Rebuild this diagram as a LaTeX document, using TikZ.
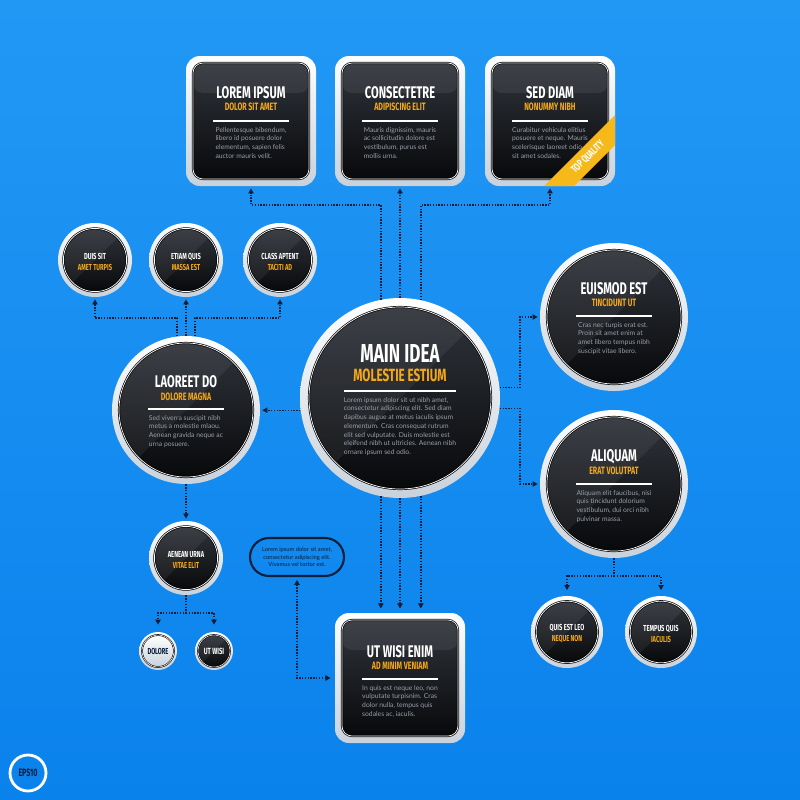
\documentclass[tikz,border=0pt]{standalone}
\usepackage{xcolor}
\usepackage{fontspec}
\usepackage{tikz}
\usetikzlibrary{arrows.meta}

\setmainfont{Lato}
\newfontfamily\headfont[FakeStretch=0.66]{Fira Sans}

\definecolor{bgtop}{RGB}{34,152,245}
\definecolor{bgbottom}{RGB}{10,130,236}
\definecolor{ink}{HTML}{0B1E3A}
\definecolor{gold}{HTML}{F6A917}
\definecolor{bodygray}{HTML}{98A0AA}
\definecolor{dkA}{HTML}{30343B}
\definecolor{dkB}{HTML}{08090B}
\definecolor{ringgray}{HTML}{C9D1DB}
\definecolor{ribbon}{HTML}{F7B81A}

\begin{document}
\begin{tikzpicture}[x=0.25mm, y=-0.25mm,
  ring/.style={circle, top color=white, bottom color=ringgray, inner sep=0},
  disk/.style={circle, top color=dkA, bottom color=dkB, draw=black, double=white,
    double distance=0.5pt, line width=0.5pt, inner sep=0,
    path picture={\fill[white, opacity=.06] (path picture bounding box.north west)
      -- (path picture bounding box.north east) -- (path picture bounding box.south west) -- cycle;}},
  tile/.style={rectangle, rounded corners=3.5mm, top color=white, bottom color=ringgray,
    minimum size=32.5mm, inner sep=0},
  tilein/.style={rectangle, rounded corners=2.5mm, top color=dkA, bottom color=dkB,
    draw=black, double=white, double distance=0.5pt, line width=0.5pt, minimum size=29mm, inner sep=0,
    path picture={\fill[white, opacity=.07] (path picture bounding box.north west)
      rectangle ([yshift=7mm]path picture bounding box.east);}},
  ttl/.style={font=\headfont\bfseries\fontsize{12}{12}\selectfont, text=white, inner sep=0},
  subttl/.style={font=\headfont\bfseries\fontsize{7.6}{7.6}\selectfont, text=gold, inner sep=0},
  txt/.style={font=\fontsize{4.8}{6.2}\selectfont, text=bodygray, align=left, anchor=north, inner sep=0},
  mini/.style={font=\headfont\bfseries\fontsize{6.2}{7.8}\selectfont, align=center, inner sep=0},
  sepline/.style={white, line width=1.4pt},
  conn/.style={draw=ink, line width=1pt, dash pattern=on 1pt off 1pt,
    -{Triangle[length=3.6pt,width=3.8pt]}, shorten >=1.5pt},
  biconn/.style={conn, {Triangle[length=3.6pt,width=3.8pt]}-{Triangle[length=3.6pt,width=3.8pt]}, shorten <=1.5pt}]

  % background
  \useasboundingbox (0,0) rectangle (800,800);
  \fill[top color=bgtop, bottom color=bgbottom] (0,0) rectangle (800,800);

  % top tiles
  \node[tile] (box1) at (251,121) {};
  \node[tilein] (box1i) at (251,121) {};
  \node[ttl] (box1t) at (251,93) {LOREM IPSUM};
  \node[subttl] (box1s) at (251,107) {DOLOR SIT AMET};
  \draw[sepline] (213,121) -- (289,121);
  \node[txt] (box1x) at (251,127) {Pellentesque bibendum,\\libero id posuere dolor\\elementum, sapien felis\\auctor mauris velit.};

  \node[tile] (box2) at (400,121) {};
  \node[tilein] (box2i) at (400,121) {};
  \node[ttl] (box2t) at (400,93) {CONSECTETRE};
  \node[subttl] (box2s) at (400,107) {ADIPISCING ELIT};
  \draw[sepline] (362,121) -- (438,121);
  \node[txt] (box2x) at (400,127) {Mauris dignissim, mauris\\ac sollicitudin dolore est\\vestibulum, purus est\\mollis urna.};

  \node[tile] (box3) at (550,121) {};
  \node[tilein] (box3i) at (550,121) {};
  \node[ttl] (box3t) at (550,93) {SED DIAM};
  \node[subttl] (box3s) at (550,107) {NONUMMY NIBH};
  \draw[sepline] (512,121) -- (588,121);
  \node[txt] (box3x) at (550,127) {Curabitur vehicula elitius\\posuere et neque. Mauris\\scelerisque laoreet odio\\sit amet sodales.};
  \begin{scope}
    \clip[rounded corners=3.5mm] (485,56) rectangle (615,186);
    \fill[ribbon] (520,210) -- (640,90) -- (670,90) -- (550,210) -- cycle;
  \end{scope}
  \node[font=\headfont\bfseries\fontsize{7.6}{7.6}\selectfont, text=white, rotate=45, inner sep=0] (topq) at (588,157) {TOP QUALITY};

  % small circles, left
  \node[ring, minimum size=18.5mm] (c1) at (95,260) {};
  \node[disk, minimum size=15.8mm] (c1i) at (95,260) {};
  \node[mini] (c1t) at (95,262) {\textcolor{white}{DUIS SIT}\\\textcolor{gold}{AMET TURPIS}};
  \node[ring, minimum size=18.5mm] (c2) at (186,260) {};
  \node[disk, minimum size=15.8mm] (c2i) at (186,260) {};
  \node[mini] (c2t) at (186,262) {\textcolor{white}{ETIAM QUIS}\\\textcolor{gold}{MASSA EST}};
  \node[ring, minimum size=18.5mm] (c3) at (280,260) {};
  \node[disk, minimum size=15.8mm] (c3i) at (280,260) {};
  \node[mini] (c3t) at (280,262) {\textcolor{white}{CLASS APTENT}\\\textcolor{gold}{TACITI AD}};

  % laoreet
  \node[ring, minimum size=37mm] (lao) at (186,410) {};
  \node[disk, minimum size=33.5mm] (laoi) at (186,410) {};
  \node[ttl] (laot) at (186,382) {LAOREET DO};
  \node[subttl] (laos) at (186,397) {DOLORE MAGNA};
  \draw[sepline] (148,409) -- (224,409);
  \node[txt] (laox) at (186,415) {Sed viverra suscipit nibh\\metus a molestie mlaou.\\Aenean gravida neque ac\\urna posuere.};

  % main idea
  \node[ring, minimum size=50mm] (main) at (400,398) {};
  \node[disk, minimum size=45.5mm] (maini) at (400,398) {};
  \node[ttl, font=\headfont\bfseries\fontsize{18.5}{18.5}\selectfont] (maint) at (400,353) {MAIN IDEA};
  \node[subttl, font=\headfont\bfseries\fontsize{12.6}{12.6}\selectfont] (mains) at (400,375) {MOLESTIE ESTIUM};
  \draw[sepline] (344,391) -- (456,391);
  \node[txt] (mainx) at (400,397) {Lorem ipsum dolor sit ut nibh amet,\\consectetur adipiscing elit. Sed diam\\dapibus augue at metus iaculis ipsum\\elementum. Cras consequat rutrum\\elit sed vulputate. Duis molestie est\\eleifend nibh ut ultricies. Aenean nibh\\ornare ipsum sed odio.};

  % right circles
  \node[ring, minimum size=37mm] (eui) at (614,317) {};
  \node[disk, minimum size=33.5mm] (euii) at (614,317) {};
  \node[ttl] (euit) at (614,289) {EUISMOD EST};
  \node[subttl] (euis) at (614,303) {TINCIDUNT UT};
  \draw[sepline] (576,316) -- (652,316);
  \node[txt] (euix) at (614,322) {Cras nec turpis erat est.\\Proin sit amet enim at\\amet libero tempus nibh\\suscipit vitae libero.};

  \node[ring, minimum size=37mm] (ali) at (614,484) {};
  \node[disk, minimum size=33.5mm] (alii) at (614,484) {};
  \node[ttl] (alit) at (614,457) {ALIQUAM};
  \node[subttl] (alis) at (614,471) {ERAT VOLUTPAT};
  \draw[sepline] (576,484) -- (652,484);
  \node[txt] (alix) at (614,490) {Aliquam elit faucibus, nisi\\quis tincidunt dolorium\\vestibulum, dui orci nibh\\pulvinar massa.};

  % aenean and its two
  \node[ring, minimum size=18.5mm] (aen) at (186,558) {};
  \node[disk, minimum size=15.8mm] (aeni) at (186,558) {};
  \node[mini] (aent) at (186,560) {\textcolor{white}{AENEAN URNA}\\\textcolor{gold}{VITAE ELIT}};
  \node[ring, minimum size=9.5mm] (dol) at (158,651) {};
  \node[circle, top color=white, bottom color=ringgray, draw=black, double=white, double distance=0.4pt,
    line width=0.4pt, minimum size=8mm, inner sep=0, text=ink, font=\headfont\bfseries\fontsize{6.2}{6.2}\selectfont]
    (doli) at (158,651) {DOLORE};
  \node[ring, minimum size=9.5mm] (uw) at (214,651) {};
  \node[disk, double distance=0.4pt, line width=0.4pt, minimum size=8mm, text=white,
    font=\headfont\bfseries\fontsize{6.4}{6.4}\selectfont] (uwi) at (214,651) {UT WISI};

  % note
  \node[rectangle, rounded corners=4.75mm, draw=ink, line width=1.5pt, minimum width=23.5mm,
    minimum height=9.5mm, inner sep=0, align=center, text=ink, font=\fontsize{4.1}{5.3}\selectfont]
    (pill) at (297,557) {Lorem ipsum dolor sit amet,\\consectetur adipiscing elit.\\Vivamus vel tortor est.};

  % bottom tile
  \node[tile] (box4) at (400,678) {};
  \node[tilein] (box4i) at (400,678) {};
  \node[ttl] (box4t) at (400,652) {UT WISI ENIM};
  \node[subttl] (box4s) at (400,666) {AD MINIM VENIAM};
  \draw[sepline] (362,679) -- (438,679);
  \node[txt] (box4x) at (400,685) {In quis est neque leo, non\\vulputate turpisnim. Cras\\dolor nulla, tempus quis\\sodales ac, iaculis.};

  % quis / tempus
  \node[ring, minimum size=18mm] (qel) at (567,632) {};
  \node[disk, minimum size=15.4mm] (qeli) at (567,632) {};
  \node[mini] (qelt) at (567,634) {\textcolor{white}{QUIS EST LEO}\\\textcolor{gold}{NEQUE NON}};
  \node[ring, minimum size=18mm] (tq) at (661,632) {};
  \node[disk, minimum size=15.4mm] (tqi) at (661,632) {};
  \node[mini] (tqt) at (661,634) {\textcolor{white}{TEMPUS QUIS}\\\textcolor{gold}{IACULIS}};

  % eps badge
  \node[circle, draw=white, line width=2pt, minimum size=9mm, inner sep=0, text=ink,
    font=\headfont\bfseries\fontsize{7.6}{7.6}\selectfont] (eps) at (28,773) {EPS10};

  % connectors
  \coordinate (k1) at (251,205);
  \coordinate (k2) at (550,205);
  \draw[conn] (main.101.5) |- (k1) -- (box1.south);
  \draw[conn] (main.north) -- (box2.south);
  \draw[conn] (main.78.5) |- (k2) -- (box3.south);

  \coordinate (k3) at (95,318);
  \coordinate (k4) at (280,318);
  \draw[conn] (lao.97) |- (k3) -- (c1.south);
  \draw[conn] (lao.north) -- (c2.south);
  \draw[conn] (lao.83) |- (k4) -- (c3.south);

  \draw[conn] (main.187) -- (main.187 -| lao.east);

  \coordinate (jr) at (520,398);
  \draw[conn] (main.6) -| (jr |- eui.west) -- (eui.west);
  \draw[conn] (main.-6) -| (jr |- ali.west) -- (ali.west);

  \draw[conn] (lao.south) -- (aen.north);
  \coordinate (ja) at (186,613);
  \draw[conn, shorten >=5pt] (aen.south) -- (ja) -| (dol.north);
  \draw[conn, shorten >=5pt] (ja) -| (uw.north);

  \coordinate (jb) at (614,576);
  \draw[conn, shorten >=4pt] (ali.south) -- (jb) -| (qel.north);
  \draw[conn, shorten >=4pt] (jb) -| (tq.north);

  \draw[conn, shorten >=3pt] (main.-101.5) -- (main.-101.5 |- box4.north);
  \draw[conn, shorten >=3pt] (main.south) -- (box4.north);
  \draw[conn, shorten >=3pt] (main.-78.5) -- (main.-78.5 |- box4.north);

  \draw[biconn, shorten <=2pt, shorten >=3pt] (pill.south) |- (box4.west);
\end{tikzpicture}
\end{document}
